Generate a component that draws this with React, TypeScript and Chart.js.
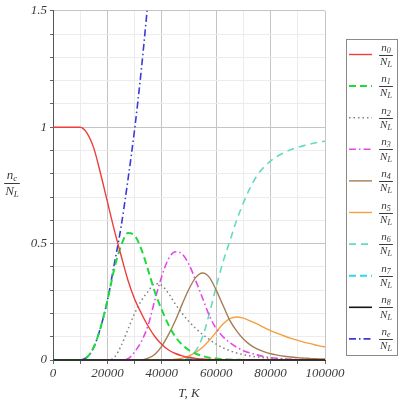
import React, { useEffect, useRef } from 'react';
import { Chart, registerables } from 'chart.js';

Chart.register(...registerables);

// Temperature grid, K
const T = [0, 2500, 5000, 7500, 10000, 12500, 15000, 17500, 20000, 22500, 25000, 27500, 30000, 32500, 35000, 37500, 40000, 42500, 45000, 47500, 50000, 52500, 55000, 57500, 60000, 62500, 65000, 67500, 70000, 72500, 75000, 77500, 80000, 82500, 85000, 87500, 90000, 92500, 95000, 97500, 100000];

const n0 = [1, 1, 1, 1, 1, 0.975, 0.91, 0.8, 0.68, 0.56, 0.45, 0.345, 0.262, 0.2, 0.145, 0.1, 0.067, 0.043, 0.028, 0.018, 0.011, 0.007, 0.004, 0.0025, 0.0015, 0.001, 0.0006, 0.0004, 0.0002, 0.0001, 0, 0, 0, 0, 0, 0, 0, 0, 0, 0, 0];
const n1 = [0, 0, 0, 0, 0, 0.012, 0.055, 0.14, 0.255, 0.39, 0.49, 0.545, 0.535, 0.475, 0.385, 0.29, 0.215, 0.15, 0.1, 0.065, 0.042, 0.027, 0.017, 0.01, 0.006, 0.004, 0.002, 0.001, 0, 0, 0, 0, 0, 0, 0, 0, 0, 0, 0, 0, 0];
const n2 = [0, 0, 0, 0, 0, 0, 0, 0, 0, 0.01, 0.06, 0.13, 0.2, 0.255, 0.295, 0.328, 0.32, 0.285, 0.24, 0.2, 0.165, 0.135, 0.11, 0.088, 0.068, 0.052, 0.04, 0.03, 0.023, 0.017, 0.013, 0.01, 0.007, 0.005, 0.004, 0.003, 0.002, 0.002, 0.001, 0.001, 0.001];
const n3 = [0, 0, 0, 0, 0, 0, 0, 0, 0, 0, 0, 0.005, 0.035, 0.08, 0.15, 0.26, 0.36, 0.435, 0.465, 0.455, 0.41, 0.34, 0.265, 0.19, 0.135, 0.1, 0.075, 0.055, 0.04, 0.03, 0.022, 0.015, 0.01, 0.007, 0.005, 0.003, 0.002, 0.001, 0.001, 0, 0];
const n4 = [0, 0, 0, 0, 0, 0, 0, 0, 0, 0, 0, 0, 0, 0, 0.008, 0.025, 0.06, 0.11, 0.17, 0.24, 0.305, 0.355, 0.374, 0.355, 0.3, 0.235, 0.17, 0.125, 0.09, 0.065, 0.048, 0.036, 0.027, 0.021, 0.016, 0.013, 0.01, 0.008, 0.006, 0.005, 0.004];
const n5 = [0, 0, 0, 0, 0, 0, 0, 0, 0, 0, 0, 0, 0, 0, 0, 0, 0, 0, 0.003, 0.008, 0.018, 0.033, 0.055, 0.085, 0.12, 0.155, 0.178, 0.185, 0.18, 0.168, 0.155, 0.14, 0.126, 0.114, 0.103, 0.093, 0.084, 0.076, 0.069, 0.062, 0.056];
const n6 = [0, 0, 0, 0, 0, 0, 0, 0, 0, 0, 0, 0, 0, 0, 0, 0, 0, 0, 0, 0, 0.01, 0.04, 0.1, 0.2, 0.315, 0.42, 0.51, 0.6, 0.675, 0.74, 0.792, 0.828, 0.855, 0.875, 0.891, 0.904, 0.914, 0.922, 0.929, 0.935, 0.94];
const n7 = [0, 0, 0, 0, 0, 0, 0, 0, 0, 0, 0, 0, 0, 0, 0, 0, 0, 0, 0, 0, 0, 0, 0, 0, 0, 0, 0, 0, 0, 0, 0, 0, 0, 0, 0, 0, 0, 0, 0, 0, 0];
const n8 = [0, 0, 0, 0, 0, 0, 0, 0, 0, 0, 0, 0, 0, 0, 0, 0, 0, 0, 0, 0, 0, 0, 0, 0, 0, 0, 0, 0, 0, 0, 0, 0, 0, 0, 0, 0, 0, 0, 0, 0, 0];
const ne = [0, 0, 0, 0, 0, 0.012, 0.055, 0.14, 0.255, 0.41, 0.57, 0.77, 0.99, 1.25, 1.55, null, null, null, null, null, null, null, null, null, null, null, null, null, null, null, null, null, null, null, null, null, null, null, null, null, null];

const SERIES_VALUES = [n0, n1, n2, n3, n4, n5, n6, n7, n8, ne];
const SUBSCRIPTS = ['0', '1', '2', '3', '4', '5', '6', '7', '8', 'e'];

const X_TICK_LABELS = ['0', '20000', '40000', '60000', '80000', '100000'];
const Y_TICK_LABELS = ['0', '0.5', '1', '1.5'];

// styles (kept apart from the data)
const COLORS = ['#ee3d3a', '#1cdc3c', '#808080', '#e548e5', '#a67d52', '#f5a040', '#62dcc0', '#2cd8e8', '#151515', '#3a3ad8'];
const DASHES: number[][] = [[], [7, 4], [1.5, 3], [7, 3, 1.5, 3], [], [], [7, 5], [7, 4], [], [7, 3, 1.5, 3]];
const WIDTHS = [1.4, 2, 1.5, 1.6, 1.4, 1.4, 1.6, 2, 1.6, 1.6];

const SERIF = '"Liberation Serif", "Times New Roman", serif';
const TEXT_COLOR = '#3a3a3a';

function drawFrac(ctx: CanvasRenderingContext2D, cx: number, cy: number, num: string, numSub: string, den: string, denSub: string, size: number) {
  const sub = Math.round(size * 0.72);
  ctx.fillStyle = TEXT_COLOR;
  ctx.textAlign = 'left';
  ctx.textBaseline = 'alphabetic';
  ctx.font = `italic ${size}px ${SERIF}`;
  const wn = ctx.measureText(num).width;
  const wd = ctx.measureText(den).width;
  ctx.font = `italic ${sub}px ${SERIF}`;
  const wns = ctx.measureText(numSub).width;
  const wds = ctx.measureText(denSub).width;
  const topW = wn + wns;
  const botW = wd + wds;
  const barW = Math.max(topW, botW) + 2;
  let x = cx - topW / 2;
  ctx.font = `italic ${size}px ${SERIF}`;
  ctx.fillText(num, x, cy - 4);
  ctx.font = `italic ${sub}px ${SERIF}`;
  ctx.fillText(numSub, x + wn, cy - 2);
  ctx.strokeStyle = TEXT_COLOR;
  ctx.lineWidth = 1;
  ctx.setLineDash([]);
  ctx.beginPath();
  ctx.moveTo(cx - barW / 2, Math.round(cy) + 0.5);
  ctx.lineTo(cx + barW / 2, Math.round(cy) + 0.5);
  ctx.stroke();
  x = cx - botW / 2;
  ctx.font = `italic ${size}px ${SERIF}`;
  ctx.fillText(den, x, cy + size * 0.85 + 1);
  ctx.font = `italic ${sub}px ${SERIF}`;
  ctx.fillText(denSub, x + wd, cy + size * 0.85 + 3);
}

const decorPlugin = {
  id: 'decor',
  afterDraw(chart: any) {
    const ctx: CanvasRenderingContext2D = chart.ctx;
    ctx.save();
    ctx.strokeStyle = '#8a8a8a';
    ctx.lineWidth = 1;
    ctx.setLineDash([]);
    ctx.strokeRect(346.5, 39.5, 51, 316);
    chart.data.datasets.forEach((ds: any, i: number) => {
      const cy = 39 + 15.5 + i * 31.6;
      ctx.beginPath();
      ctx.strokeStyle = ds.borderColor;
      ctx.lineWidth = ds.borderWidth;
      ctx.setLineDash(ds.borderDash || []);
      ctx.moveTo(349, cy);
      ctx.lineTo(372, cy);
      ctx.stroke();
      ctx.setLineDash([]);
      drawFrac(ctx, 386, cy, 'n', SUBSCRIPTS[i], 'N', 'L', 11);
    });
    drawFrac(ctx, 12, 183, 'n', 'c', 'N', 'L', 13);
    ctx.font = `italic 13px ${SERIF}`;
    ctx.fillStyle = TEXT_COLOR;
    ctx.textAlign = 'center';
    ctx.textBaseline = 'alphabetic';
    ctx.fillText('T, K', 189, 397);
    ctx.restore();
  },
};

export default function App() {
  const ref = useRef<HTMLCanvasElement | null>(null);

  useEffect(() => {
    if (!ref.current) return;
    const datasets = SERIES_VALUES.map((vals, i) => ({
      label: 'n' + SUBSCRIPTS[i],
      data: T.map((t, k) => ({ x: t, y: vals[k] })),
      borderColor: COLORS[i],
      borderDash: DASHES[i],
      borderWidth: WIDTHS[i],
      pointRadius: 0,
      fill: false,
      cubicInterpolationMode: 'monotone' as const,
      spanGaps: false,
      order: i === 8 ? -1 : 0,
    }));

    const tickFont = { family: SERIF, style: 'italic' as const, size: 13 };

    const chart = new Chart(ref.current, {
      type: 'line',
      data: { datasets },
      plugins: [decorPlugin],
      options: {
        animation: false,
        responsive: false,
        layout: { padding: { left: 0, top: 6, right: 75, bottom: 0 } },
        plugins: { legend: { display: false }, tooltip: { enabled: false } },
        scales: {
          x: {
            type: 'linear',
            min: 0,
            max: 100000,
            afterFit: (s: any) => { s.height = 40; },
            ticks: {
              stepSize: 10000,
              autoSkip: false,
              maxRotation: 0,
              padding: 2,
              color: TEXT_COLOR,
              font: tickFont,
              callback: (v: any) => {
                const idx = X_TICK_LABELS.indexOf(String(v));
                return idx >= 0 ? X_TICK_LABELS[idx] : '';
              },
            },
            grid: {
              color: (c: any) => (c.tick && c.tick.value % 20000 === 0 ? '#c4c4c4' : '#ececec'),
              tickColor: '#666',
              tickLength: 4,
            },
            border: { color: '#333', width: 1 },
          },
          y: {
            type: 'linear',
            min: 0,
            max: 1.5,
            afterFit: (s: any) => { s.width = 53; },
            ticks: {
              stepSize: 0.1,
              autoSkip: false,
              padding: 3,
              color: TEXT_COLOR,
              font: tickFont,
              callback: (v: any) => {
                const k = Math.round(Number(v) * 10);
                const s = String(k / 10);
                return k % 5 === 0 && Y_TICK_LABELS.includes(s) ? s : '';
              },
            },
            grid: {
              color: (c: any) => (c.tick && Math.round(c.tick.value * 10) % 5 === 0 ? '#c4c4c4' : '#ececec'),
              tickColor: '#666',
              tickLength: 3,
            },
            border: { color: '#555', width: 1 },
          },
        },
      },
    });
    return () => chart.destroy();
  }, []);

  return (
    <div style={{ position: 'absolute', left: 0, top: 0, width: 400, height: 400, background: '#fff' }}>
      <canvas ref={ref} width={400} height={400} />
    </div>
  );
}
